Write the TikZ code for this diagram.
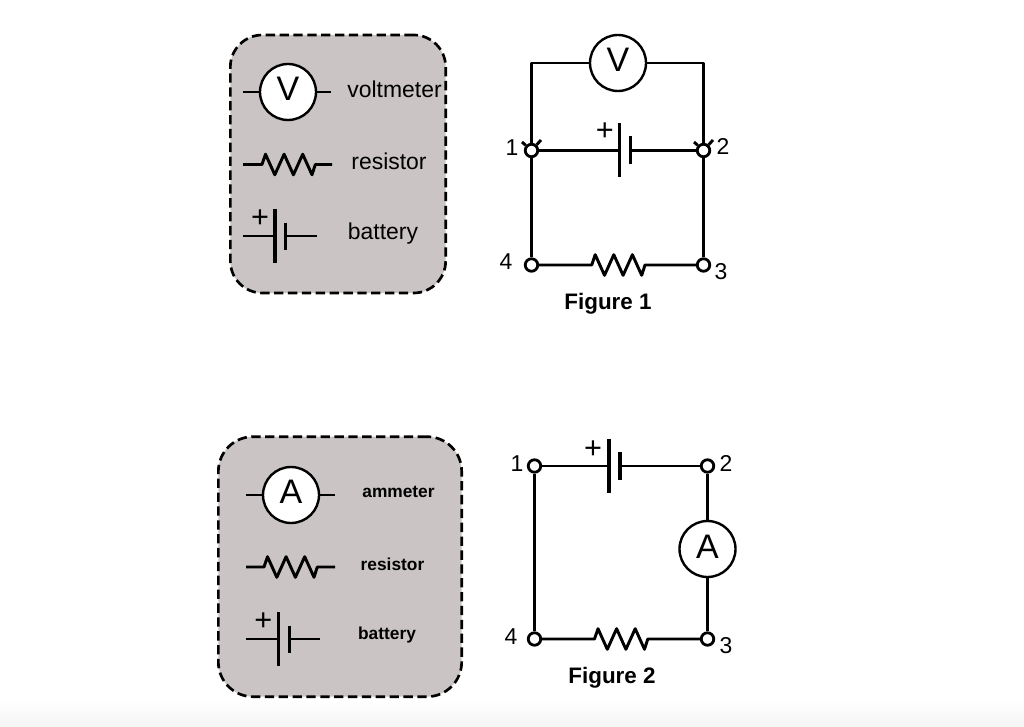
\documentclass[tikz,border=0pt]{standalone}
\usepackage{fontspec}
\setmainfont{Liberation Sans}
\definecolor{legendgrey}{HTML}{CAC4C4}
\newcommand{\zigzag}{-- ++(3.5,-10.3) -- ++(9.3,20.6) -- ++(9.3,-20.6) -- ++(9.3,20.6) -- ++(9.3,-20.6) -- ++(9.3,20.6) -- ++(3.3,-10.3)}
\newcommand{\mtext}[1]{\raisebox{4.5pt}{#1}}
\tikzset{
  wire/.style={line width=2.2pt,line join=round},
  plate/.style={line width=2.4pt},
  legendbox/.style={draw,fill=legendgrey,line width=2pt,dash pattern=on 7pt off 3.4pt,inner sep=0pt},
  meter/.style={draw,circle,fill=white,line width=1.8pt,minimum size=42pt,inner sep=0pt,font=\fontsize{25.5}{26}\selectfont},
  terminal/.style={draw,circle,fill=white,line width=2.1pt,minimum size=9.4pt,inner sep=0pt},
  lbl/.style={inner sep=0pt,yshift=-0.2pt,font=\fontsize{17.2}{19}\selectfont},
  lblb/.style={inner sep=0pt,yshift=-0.8pt,font=\fontsize{13}{15}\selectfont\bfseries},
  figlbl/.style={inner sep=0pt,yshift=-1.2pt,font=\fontsize{16.8}{18}\selectfont\bfseries},
  plus/.style={inner sep=0pt,yshift=-1.2pt,font=\fontsize{23}{23}\selectfont},
}
\begin{document}
\begin{tikzpicture}[x=0.75pt,y=-0.75pt]
\useasboundingbox (0,0) rectangle (1024,727);
\shade[top color=white,bottom color=black!4,draw=none] (0,700) rectangle (1024,727);

% Legend 1
\node[legendbox,rounded corners=24pt,minimum width=161.5pt,minimum height=193.5pt] (box1) at (338,164) {};
\node[meter] (lv) at (288,92) {\mtext{V}};
\coordinate (lvl) at (243,92);
\coordinate (lvr) at (331,92);
\draw[wire] (lvl) -- (lv);
\draw[wire] (lv) -- (lvr);
\node[lbl] (tv) at (394.5,89) {voltmeter};
\coordinate (lr1a) at (243,164.5);
\coordinate (lr1b) at (262,164.5);
\coordinate (lr1d) at (332,164.5);
\draw[wire] (lr1a) -- (lr1b) \zigzag -- (lr1d);
\node[lbl] (tr1) at (389,161) {resistor};
\coordinate (lb1a) at (243,236);
\coordinate (lb1p) at (275,236);
\coordinate (lb1n) at (285.7,236);
\coordinate (lb1b) at (317,236);
\draw[wire] (lb1a) -- (lb1p);
\draw[wire] (lb1n) -- (lb1b);
\draw[plate] (275,209) -- (275,263);
\draw[plate] (285.7,222.7) -- (285.7,250);
\node[plus] (lp1) at (260,217) {+};
\node[lbl,yshift=-0.8pt] (tb1) at (383,232) {battery};

% Figure 1
\node[meter] (v) at (618,63) {\mtext{V}};
\node[terminal] (t1) at (531.5,150.5) {};
\node[terminal] (t2) at (703.5,150.5) {};
\node[terminal] (t3) at (703.5,265) {};
\node[terminal] (t4) at (531.5,265) {};
\draw[wire] (v) -| (t1);
\draw[wire] (v) -| (t2);
\draw[wire] (t1) -- (t4);
\draw[wire] (t2) -- (t3);
\coordinate (a1) at (522,142);
\coordinate (a2) at (541,140);
\coordinate (a3) at (694,142);
\coordinate (a4) at (713,140);
\draw[wire] (a1) -- (t1);
\draw[wire] (a2) -- (t1);
\draw[wire] (a3) -- (t2);
\draw[wire] (a4) -- (t2);
\coordinate (bp1) at (619.3,150.5);
\coordinate (bn1) at (630.7,150.5);
\draw[wire] (t1) -- (bp1);
\draw[wire] (bn1) -- (t2);
\draw[plate] (619.3,123) -- (619.3,177);
\draw[plate] (630.7,136) -- (630.7,164);
\node[plus] (p1) at (604.7,130.5) {+};
\coordinate (r1a) at (591.7,265);
\draw[wire] (t4) -- (r1a) \zigzag -- (t3);
\node[lbl] (n1) at (512,147) {1};
\node[lbl] (n2) at (723,146) {2};
\node[lbl] (n3) at (721,271) {3};
\node[lbl] (n4) at (506,261) {4};
\node[figlbl] (f1) at (608,302) {Figure 1};

% Legend 2
\node[legendbox,rounded corners=26pt,minimum width=182.5pt,minimum height=195pt] (box2) at (340,566.7) {};
\node[meter] (la) at (291,495) {\mtext{A}};
\coordinate (lal) at (246,495);
\coordinate (lar) at (335,495);
\draw[wire] (lal) -- (la);
\draw[wire] (la) -- (lar);
\node[lblb] (ta) at (398.5,491) {ammeter};
\coordinate (lr2a) at (246,567);
\coordinate (lr2b) at (264,567);
\coordinate (lr2d) at (335,567);
\draw[wire] (lr2a) -- (lr2b) \zigzag -- (lr2d);
\node[lblb] (tr2) at (392.5,563) {resistor};
\coordinate (lb2a) at (246,639);
\coordinate (lb2p) at (278.3,639);
\coordinate (lb2n) at (289.3,639);
\coordinate (lb2b) at (320,639);
\draw[wire] (lb2a) -- (lb2p);
\draw[wire] (lb2n) -- (lb2b);
\draw[plate] (278.3,612.3) -- (278.3,666);
\draw[plate] (289.3,625.7) -- (289.3,652.7);
\node[plus] (lp2) at (263.3,620) {+};
\node[lblb] (tb2) at (387,634) {battery};

% Figure 2
\node[meter] (a) at (707.5,549) {\raisebox{3pt}{A}};
\node[terminal] (u1) at (534.5,466) {};
\node[terminal] (u2) at (707.5,466) {};
\node[terminal] (u3) at (707.5,639) {};
\node[terminal] (u4) at (534.5,639) {};
\coordinate (bp2) at (609,466);
\coordinate (bn2) at (620,466);
\draw[wire] (u1) -- (bp2);
\draw[wire] (bn2) -- (u2);
\draw[plate] (609,439) -- (609,493);
\draw[plate] (620,452) -- (620,480);
\node[plus] (p2) at (593,448.5) {+};
\draw[wire] (u1) -- (u4);
\draw[wire] (u2) -- (a);
\draw[wire] (a) -- (u3);
\coordinate (r2a) at (594.5,639);
\draw[wire] (u4) -- (r2a) \zigzag -- (u3);
\node[lbl] (m1) at (517,463) {1};
\node[lbl] (m2) at (726,463) {2};
\node[lbl] (m3) at (726,645) {3};
\node[lbl] (m4) at (511,636) {4};
\node[figlbl] (f2) at (612,676) {Figure 2};
\end{tikzpicture}
\end{document}
